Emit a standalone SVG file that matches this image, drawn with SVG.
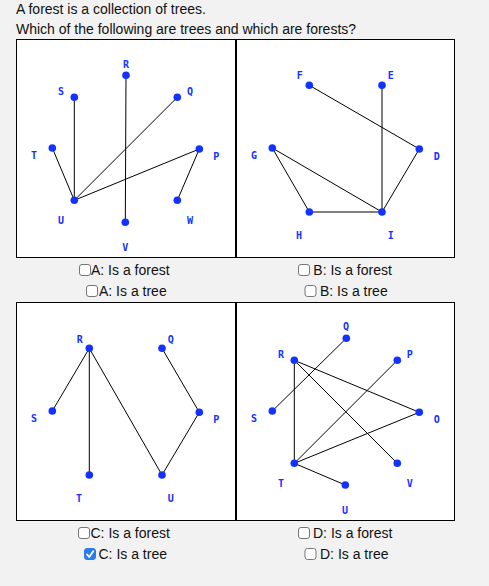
<svg xmlns="http://www.w3.org/2000/svg" width="489" height="586" viewBox="0 0 489 586">
<style>
.bg{fill:#f2f2f2}
.panel{fill:#fff;stroke:#000;stroke-width:1}
.e{stroke:#000;stroke-width:1;fill:none}
.n{fill:#1232ff}
.lb{font-family:"DejaVu Sans Mono","Liberation Mono",monospace;font-weight:bold;font-size:10px;fill:#1232ff;text-anchor:middle;dominant-baseline:central}
.t{font-family:"Liberation Sans",Arial,sans-serif;font-size:14px;fill:#111}
.cb{fill:#fff;stroke:#767676;stroke-width:1}
.cbc{fill:#2b7de9;stroke:#2b7de9;stroke-width:1}
</style>
<rect class="bg" x="0" y="0" width="489" height="586"/>
<text class="t" x="16" y="13.5">A forest is a collection of trees.</text>
<text class="t" x="16" y="34">Which of the following are trees and which are forests?</text>

<rect class="panel" x="16.5" y="39.5" width="219" height="218"/>
<rect class="panel" x="236.5" y="39.5" width="218" height="218"/>
<rect class="panel" x="16.5" y="302.5" width="219" height="218"/>
<rect class="panel" x="236.5" y="302.5" width="218" height="218"/>

<g id="connectors">
  <!-- A -->
  <line class="e" x1="126" y1="75.3" x2="125.3" y2="222.3"/>
  <line class="e" x1="74.3" y1="97.3" x2="74.3" y2="200.3"/>
  <line class="e" x1="52.3" y1="148" x2="74.3" y2="200.3"/>
  <line class="e" x1="74.3" y1="200.3" x2="177.3" y2="97.3"/>
  <line class="e" x1="74.3" y1="200.3" x2="199.3" y2="149"/>
  <line class="e" x1="199.3" y1="149" x2="177.3" y2="200.3"/>
  <!-- B -->
  <line class="e" x1="309.3" y1="85.3" x2="419.3" y2="149"/>
  <line class="e" x1="382" y1="85.3" x2="382" y2="212"/>
  <line class="e" x1="272.3" y1="148" x2="309.3" y2="212"/>
  <line class="e" x1="272.3" y1="148" x2="382" y2="212"/>
  <line class="e" x1="309.3" y1="212" x2="382" y2="212"/>
  <line class="e" x1="419.3" y1="149" x2="382" y2="212"/>
  <!-- C -->
  <line class="e" x1="89.3" y1="348.3" x2="52.3" y2="411"/>
  <line class="e" x1="89.3" y1="348.3" x2="89.3" y2="475"/>
  <line class="e" x1="89.3" y1="348.3" x2="162" y2="475"/>
  <line class="e" x1="162" y1="348.3" x2="199.3" y2="412.3"/>
  <line class="e" x1="199.3" y1="412.3" x2="162" y2="475"/>
  <!-- D -->
  <line class="e" x1="346.3" y1="338.3" x2="272.3" y2="411"/>
  <line class="e" x1="294.3" y1="360.3" x2="294.3" y2="463.3"/>
  <line class="e" x1="294.3" y1="360.3" x2="419.3" y2="412.3"/>
  <line class="e" x1="294.3" y1="360.3" x2="397.3" y2="463.3"/>
  <line class="e" x1="397.3" y1="360.3" x2="294.3" y2="463.3"/>
  <line class="e" x1="419.3" y1="412.3" x2="294.3" y2="463.3"/>
  <line class="e" x1="294.3" y1="463.3" x2="345.3" y2="485"/>
</g>

<!-- Graph A -->
<g id="A-R"><circle class="n" cx="126" cy="75.3" r="3.8"/><text class="lb" x="126" y="64">R</text></g>
<g id="A-S"><circle class="n" cx="74.3" cy="97.3" r="3.8"/><text class="lb" x="61" y="91.3">S</text></g>
<g id="A-Q"><circle class="n" cx="177.3" cy="97.3" r="3.8"/><text class="lb" x="190" y="91.3">Q</text></g>
<g id="A-T"><circle class="n" cx="52.3" cy="148" r="3.8"/><text class="lb" x="34" y="155.3">T</text></g>
<g id="A-P"><circle class="n" cx="199.3" cy="149" r="3.8"/><text class="lb" x="216.3" y="156.3">P</text></g>
<g id="A-U"><circle class="n" cx="74.3" cy="200.3" r="3.8"/><text class="lb" x="61" y="220.7">U</text></g>
<g id="A-W"><circle class="n" cx="177.3" cy="200.3" r="3.8"/><text class="lb" x="190" y="220.7">W</text></g>
<g id="A-V"><circle class="n" cx="125.3" cy="222.3" r="3.8"/><text class="lb" x="125.3" y="247.3">V</text></g>

<!-- Graph B -->
<g id="B-F"><circle class="n" cx="309.3" cy="85.3" r="3.8"/><text class="lb" x="299.7" y="75.7">F</text></g>
<g id="B-E"><circle class="n" cx="382" cy="85.3" r="3.8"/><text class="lb" x="390.7" y="75.7">E</text></g>
<g id="B-G"><circle class="n" cx="272.3" cy="148" r="3.8"/><text class="lb" x="254" y="155.3">G</text></g>
<g id="B-D"><circle class="n" cx="419.3" cy="149" r="3.8"/><text class="lb" x="436.7" y="156.3">D</text></g>
<g id="B-H"><circle class="n" cx="309.3" cy="212" r="3.8"/><text class="lb" x="299" y="235.3">H</text></g>
<g id="B-I"><circle class="n" cx="382" cy="212" r="3.8"/><text class="lb" x="390.7" y="235.3">I</text></g>

<!-- Graph C -->
<g id="C-R"><circle class="n" cx="89.3" cy="348.3" r="3.8"/><text class="lb" x="79.7" y="339">R</text></g>
<g id="C-Q"><circle class="n" cx="162" cy="348.3" r="3.8"/><text class="lb" x="170.7" y="339">Q</text></g>
<g id="C-S"><circle class="n" cx="52.3" cy="411" r="3.8"/><text class="lb" x="34" y="418.3">S</text></g>
<g id="C-P"><circle class="n" cx="199.3" cy="412.3" r="3.8"/><text class="lb" x="216.3" y="419.3">P</text></g>
<g id="C-T"><circle class="n" cx="89.3" cy="475" r="3.8"/><text class="lb" x="79" y="498.3">T</text></g>
<g id="C-U"><circle class="n" cx="162" cy="475" r="3.8"/><text class="lb" x="170.7" y="498.3">U</text></g>

<!-- Graph D -->
<g id="D-Q"><circle class="n" cx="346.3" cy="338.3" r="3.8"/><text class="lb" x="346" y="326.7">Q</text></g>
<g id="D-R"><circle class="n" cx="294.3" cy="360.3" r="3.8"/><text class="lb" x="281" y="354">R</text></g>
<g id="D-P"><circle class="n" cx="397.3" cy="360.3" r="3.8"/><text class="lb" x="409.7" y="354">P</text></g>
<g id="D-S"><circle class="n" cx="272.3" cy="411" r="3.8"/><text class="lb" x="254" y="418.3">S</text></g>
<g id="D-O"><circle class="n" cx="419.3" cy="412.3" r="3.8"/><text class="lb" x="436.7" y="419">O</text></g>
<g id="D-T"><circle class="n" cx="294.3" cy="463.3" r="3.8"/><text class="lb" x="281" y="483.3">T</text></g>
<g id="D-V"><circle class="n" cx="397.3" cy="463.3" r="3.8"/><text class="lb" x="409.7" y="483.3">V</text></g>
<g id="D-U"><circle class="n" cx="345.3" cy="485" r="3.8"/><text class="lb" x="345" y="510">U</text></g>

<!-- Checkboxes -->
<g id="cb-A-forest"><rect class="cb" x="79.5" y="264.5" width="11" height="11" rx="2.5"/><text class="t" x="91" y="274.5">A: Is a forest</text></g>
<g id="cb-A-tree"><rect class="cb" x="86.5" y="285.5" width="11" height="11" rx="2.5"/><text class="t" x="99" y="296">A: Is a tree</text></g>
<g id="cb-B-forest"><rect class="cb" x="298.5" y="264.5" width="11" height="11" rx="2.5"/><text class="t" x="313.3" y="274.5">B: Is a forest</text></g>
<g id="cb-B-tree"><rect class="cb" x="305" y="285.5" width="11" height="11" rx="2.5"/><text class="t" x="320" y="296">B: Is a tree</text></g>
<g id="cb-C-forest"><rect class="cb" x="78.5" y="527.5" width="11" height="11" rx="2.5"/><text class="t" x="90.5" y="537.5">C: Is a forest</text></g>
<g id="cb-C-tree"><rect class="cbc" x="84.5" y="548.5" width="11" height="11" rx="2.5"/><path d="M87 554.5 L89.2 557 L93.2 551.2" fill="none" stroke="#fff" stroke-width="1.8" stroke-linecap="round" stroke-linejoin="round"/><text class="t" x="98.5" y="558.5">C: Is a tree</text></g>
<g id="cb-D-forest"><rect class="cb" x="298.5" y="527.5" width="11" height="11" rx="2.5"/><text class="t" x="313" y="537.5">D: Is a forest</text></g>
<g id="cb-D-tree"><rect class="cb" x="305" y="548.5" width="11" height="11" rx="2.5"/><text class="t" x="320" y="558.5">D: Is a tree</text></g>
</svg>
